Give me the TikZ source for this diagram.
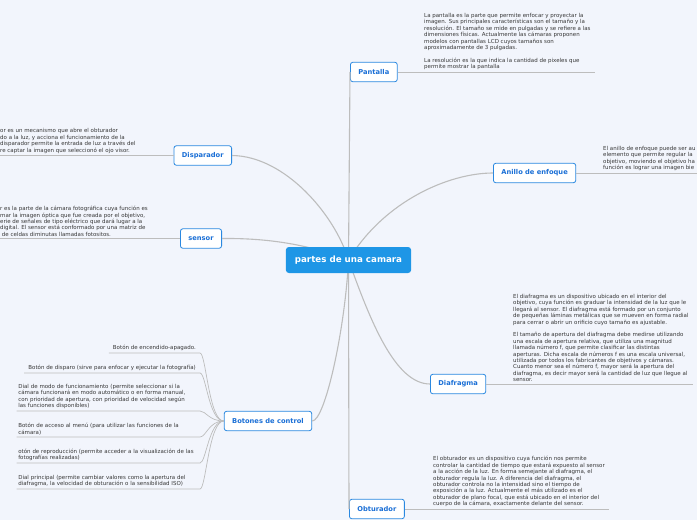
\documentclass[tikz,border=0pt]{standalone}
\usepackage{fontspec}
\setmainfont{DejaVu Sans}
\usepackage{tikz}
\definecolor{pagebg}{HTML}{F2F5FC}
\definecolor{rootblue}{HTML}{1E96E6}
\definecolor{partline}{HTML}{2A88E0}
\definecolor{parttext}{HTML}{1A6FD6}
\definecolor{notetext}{HTML}{383838}
\definecolor{wire}{HTML}{BDBDBD}

\begin{document}
\begin{tikzpicture}[x=1pt,y=-1pt,
  partbox/.style={draw=partline,line width=0.8pt,fill=white,rounded corners=2.5pt,text=parttext,
    font=\fontsize{6.7}{7}\selectfont\bfseries,inner xsep=8pt,inner ysep=0pt,minimum height=19.5pt},
  hubnode/.style={fill=rootblue,text=white,rounded corners=3pt,
    font=\fontsize{8.7}{9}\selectfont\bfseries,inner xsep=9pt,minimum height=26pt},
  note/.style={align=left,text=notetext,font=\fontsize{5.5}{6.4}\selectfont,inner xsep=4pt,inner ysep=2pt},
  btnitem/.style={note,anchor=south east},
  wideitem/.style={btnitem,text width=180pt,inner xsep=1.5pt},
  branch/.style={draw=wire,line width=1.1pt},
  twig/.style={draw=wire,line width=0.7pt},
  noteline/.style={draw=wire,line width=0.6pt}]
  \useasboundingbox (0,0) rectangle (697,520);
  \fill[pagebg] (0,0) rectangle (697,520);

  \node[partbox,anchor=west] (pantalla) at (350,72) {Pantalla};
  \node[partbox,anchor=west] (anillo) at (493,173) {Anillo de enfoque};
  \node[partbox,anchor=east] (disparador) at (232,155.5) {Disparador};
  \node[partbox,anchor=east] (sensor) at (222,238.5) {sensor};
  \node[partbox,anchor=west] (diafragma) at (430,384) {Diafragma};
  \node[partbox,anchor=west] (obturador) at (349,509) {Obturador};
  \node[partbox] (botones) at (268,421) {Botones de control};

  \node[note,anchor=south west] (pantallatxt) at (420,72) {La pantalla es la parte que permite enfocar y proyectar la\\
    imagen. Sus principales características son el tamaño y la\\
    resolución. El tamaño se mide en pulgadas y se refiere a las\\
    dimensiones físicas. Actualmente las cámaras proponen\\
    modelos con pantallas LCD cuyos tamaños son\\
    aproximadamente de 3 pulgadas.\\[6.4pt]
    La resolución es la que indica la cantidad de pixeles que\\
    permite mostrar la pantalla};
  \node[note,anchor=south west] (anillotxt) at (599,173) {El anillo de enfoque puede ser au\\
    elemento que permite regular la\\
    objetivo, moviendo el objetivo ha\\
    función es lograr una imagen bie};
  \node[note,anchor=south west] (disparadortxt) at (-4,155.5) {or es un mecanismo que abre el obturador\\
    do a la luz, y acciona el funcionamiento de la\\
    disparador permite la entrada de luz a través del\\
    re captar la imagen que seleccionó el ojo visor.};
  \node[note,anchor=south west] (sensortxt) at (-4,238.5) {r es la parte de la cámara fotográfica cuya función es\\
    mar la imagen óptica que fue creada por el objetivo,\\
    erie de señales de tipo eléctrico que dará lugar a la\\
    digital. El sensor está conformado por una matriz de\\
    \ de celdas diminutas llamadas fotositos.};
  \node[note,anchor=south west] (diafragmatxt) at (509,384) {El diafragma es un dispositivo ubicado en el interior del\\
    objetivo, cuya función es graduar la intensidad de la luz que le\\
    llegará al sensor. El diafragma está formado por un conjunto\\
    de pequeñas láminas metálicas que se mueven en forma radial\\
    para cerrar o abrir un orificio cuyo tamaño es ajustable.\\[6.4pt]
    El tamaño de apertura del diafragma debe medirse utilizando\\
    una escala de apertura relativa, que utiliza una magnitud\\
    llamada número f, que permite clasificar las distintas\\
    aperturas. Dicha escala de números f es una escala universal,\\
    utilizada por todos los fabricantes de objetivos y cámaras.\\
    Cuanto menor sea el número f, mayor será la apertura del\\
    diafragma, es decir mayor será la cantidad de luz que llegue al\\
    sensor.};
  \node[note,anchor=south west] (obturadortxt) at (429,509) {El obturador es un dispositivo cuya función nos permite\\
    controlar la cantidad de tiempo que estará expuesto al sensor\\
    a la acción de la luz. En forma semejante al diafragma, el\\
    obturador regula la luz. A diferencia del diafragma, el\\
    obturador controla no la intensidad sino el tiempo de\\
    exposición a la luz. Actualmente el más utilizado es el\\
    obturador de plano focal, que está ubicado en el interior del\\
    cuerpo de la cámara, exactamente delante del sensor.};

  \draw[noteline] (pantalla.east) -- (pantallatxt.south east);
  \draw[noteline] (anillo.east) -- (anillotxt.south east);
  \draw[noteline] (disparador.west) -- (disparadortxt.south west);
  \draw[noteline] (sensor.west) -- (sensortxt.south west);
  \draw[noteline] (diafragma.east) -- (diafragmatxt.south east);
  \draw[noteline] (obturador.east) -- (obturadortxt.south east);

  \coordinate (hub) at (348.5,260);
  \draw[branch] (hub) -- (pantalla.west);
  \draw[branch] (hub) -- (obturador.west);
  \draw[branch] (disparador.east) .. controls (285,156) and (335,215) .. (hub);
  \draw[branch] (sensor.east) .. controls (270,238) and (310,245) .. (hub);
  \draw[branch] (anillo.west) .. controls (450,173) and (385,200) .. (hub);
  \draw[branch] (hub) .. controls (370,320) and (395,384) .. (diafragma.west);
  \draw[branch] (botones.east) .. controls (325,421) and (345,330) .. (hub);
  \node[hubnode] (camara) at (hub) {partes de una camara};

  \node[btnitem] (encendido) at (200,353) {Botón de encendido-apagado.};
  \node[btnitem] (disparo) at (200,373) {Botón de disparo (sirve para enfocar y ejecutar la fotografía)};
  \node[wideitem] (dialmodo) at (200,411) {Dial de modo de funcionamiento (permite seleccionar si la\\
    cámara funcionará en modo automático o en forma manual,\\
    con prioridad de apertura, con prioridad de velocidad según\\
    las funciones disponibles)};
  \node[wideitem] (menu) at (200,437) {Botón de acceso al menú (para utilizar las funciones de la\\
    cámara)};
  \node[wideitem] (reproduccion) at (200,463) {otón de reproducción (permite acceder a la visualización de las\\
    fotografías realizadas)};
  \node[wideitem] (dialprincipal) at (200,489) {Dial principal (permite cambiar valores como la apertura del\\
    diafragma, la velocidad de obturación o la sensibilidad ISO)};

  \foreach \btn in {encendido,disparo,dialmodo,menu,reproduccion,dialprincipal}
    \draw[twig] (\btn.south west) -- (\btn.south east) .. controls +(6,0) and +(-15,0) .. (botones.west);
\end{tikzpicture}
\end{document}
